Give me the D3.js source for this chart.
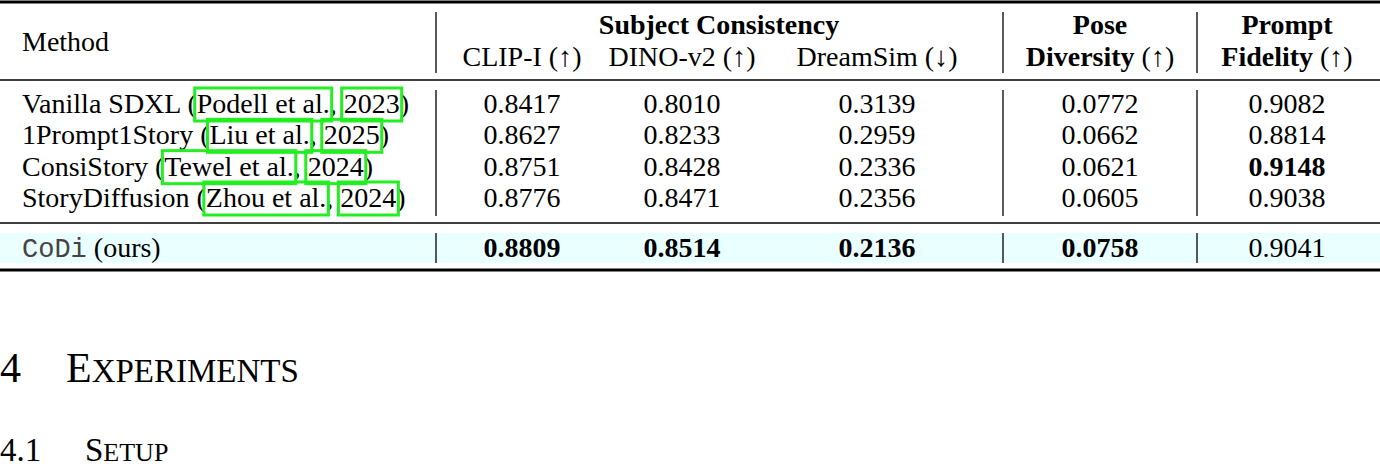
<!DOCTYPE html>
<html><head><meta charset="utf-8">
<script src="https://cdn.jsdelivr.net/npm/d3@7"></script>
<style>body{margin:0;background:#fff}svg{display:block}</style>
</head><body>
<svg id="tbl"></svg>
<script>
const methods = ["Vanilla SDXL", "1Prompt1Story", "ConsiStory", "StoryDiffusion"];
const cites = [["Podell et al.", "2023"], ["Liu et al.", "2025"], ["Tewel et al.", "2024"], ["Zhou et al.", "2024"]];
const metrics = ["CLIP-I (↑)", "DINO-v2 (↑)", "DreamSim (↓)", "Pose", "Prompt"];
const clipI = ["0.8417", "0.8627", "0.8751", "0.8776"];
const dino = ["0.8010", "0.8233", "0.8428", "0.8471"];
const dreamSim = ["0.3139", "0.2959", "0.2336", "0.2356"];
const pose = ["0.0772", "0.0662", "0.0621", "0.0605"];
const prompt = ["0.9082", "0.8814", "0.9148", "0.9038"];
const promptBold = [false, false, true, false];
const ours = ["0.8809", "0.8514", "0.2136", "0.0758", "0.9041"];
const oursBold = [true, true, true, true, false];

const W = 1380, H = 469;
const svg = d3.select("#tbl").attr("width", W).attr("height", H);
const serif = "'Liberation Serif', 'Times New Roman', serif";
const fs = 28;

const x = d3.scaleOrdinal().domain(d3.range(5)).range([522, 682, 877, 1100, 1287]);
const y = d3.scalePoint().domain(d3.range(4)).range([113, 207]);

function rule(yy, w) {
    svg.append("line").attr("x1", 0).attr("x2", W).attr("y1", yy).attr("y2", yy)
        .attr("stroke", "#000").attr("stroke-width", w);
}
function vline(y1, y2) {
    [436, 1003, 1197].forEach(v => svg.append("line").attr("x1", v).attr("x2", v)
        .attr("y1", y1).attr("y2", y2).attr("stroke", "#000").attr("stroke-width", 1.3));
}
function txt(t, xx, yy, opts = {}) {
    return svg.append("text").attr("x", xx).attr("y", yy)
        .attr("text-anchor", opts.anchor || "start")
        .style("font-family", opts.font || serif)
        .style("font-size", (opts.size || fs) + "px")
        .style("font-weight", opts.bold ? "bold" : "normal")
        .text(t);
}

// highlight row
svg.append("rect").attr("x", 0).attr("y", 233).attr("width", W).attr("height", 30).attr("fill", "#eaffff");

rule(2, 3); rule(80, 1.5); rule(223, 1.5); rule(270, 3);
vline(12, 73); vline(90, 216); vline(233, 263);

// header
txt("Method", 22, 51);
txt("Subject Consistency", 719, 34, { anchor: "middle", bold: true });
[0, 1, 2].forEach(i => txt(metrics[i], x(i), 66, { anchor: "middle" }));
txt("Pose", 1100, 34, { anchor: "middle", bold: true });
const pd = txt("", 1100, 66, { anchor: "middle" });
pd.append("tspan").style("font-weight", "bold").text("Diversity");
pd.append("tspan").text(" (↑)");
txt("Prompt", 1287, 34, { anchor: "middle", bold: true });
const pf = txt("", 1287, 66, { anchor: "middle" });
pf.append("tspan").style("font-weight", "bold").text("Fidelity");
pf.append("tspan").text(" (↑)");

// body rows
methods.forEach((m, i) => {
    const t = txt("", 22, y(i));
    t.append("tspan").text(m + " (");
    const a = t.append("tspan").text(cites[i][0]);
    t.append("tspan").text(", ");
    const b = t.append("tspan").text(cites[i][1]);
    t.append("tspan").text(")");
    [a, b].forEach(s => {
        const bb = s.node().getBBox();
        svg.append("rect").attr("x", bb.x - 2).attr("y", bb.y)
            .attr("width", bb.width + 4).attr("height", bb.height + 2)
            .attr("fill", "none").attr("stroke", "#22ee22").attr("stroke-width", 3);
    });
    [clipI, dino, dreamSim, pose, prompt].forEach((col, j) =>
        txt(col[i], x(j), y(i), { anchor: "middle", bold: j === 4 && promptBold[i] }));
});

// ours
const o = txt("", 22, 257);
o.append("tspan").style("font-family", "'Liberation Mono', 'DejaVu Sans Mono', monospace").style("font-size", "27px").attr("fill", "#444").text("CoDi");
o.append("tspan").text(" (ours)");
ours.forEach((v, j) => txt(v, x(j), 257, { anchor: "middle", bold: oursBold[j] }));

// section headings
const s1 = txt("", 0, 382, { size: 42 });
s1.append("tspan").text("4");
s1.append("tspan").attr("x", 66).text("E");
s1.append("tspan").style("font-size", "33px").text("XPERIMENTS");
const s2 = txt("", 0, 461, { size: 33 });
s2.append("tspan").text("4.1");
s2.append("tspan").attr("x", 85).text("S");
s2.append("tspan").style("font-size", "26px").text("ETUP");
</script>
</body></html>
